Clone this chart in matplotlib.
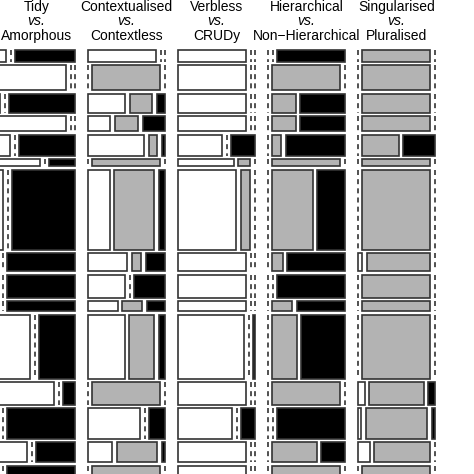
import matplotlib
matplotlib.use("Agg")
from matplotlib import pyplot as plt
from matplotlib.patches import Rectangle

plt.rcParams["font.family"] = ["Liberation Sans", "DejaVu Sans"]

# column headers
top_labels = ["Tidy", "Contextualised", "Verbless", "Hierarchical", "Singularised"]
bottom_labels = ["Amorphous", "Contextless", "CRUDy", "Non\u2212Hierarchical", "Pluralised"]

# relative row sizes (top to bottom)
row_sizes = [12, 25, 19, 15, 21, 7, 79, 18, 23, 10, 63, 23, 30, 20, 20]

# share of (white, grey, black) per row, one list per column
tidy = [(.12, 0, .88), (1, 0, 0), (.03, 0, .97), (1, 0, 0), (.17, 0, .83),
        (.62, 0, .38), (.07, 0, .93), (0, 0, 1), (0, 0, 1), (0, 0, 1),
        (.47, 0, .53), (.83, 0, .17), (0, 0, 1), (.42, 0, .58), (0, 0, 1)]
context = [(1, 0, 0), (0, 1, 0), (.55, .33, .12), (.33, .34, .33), (.83, .12, .05),
           (0, 1, 0), (.32, .59, .09), (.58, .14, .28), (.55, 0, .45), (.44, .29, .27),
           (.54, .37, .09), (0, 1, 0), (.77, 0, .23), (.36, .59, .05), (0, 1, 0)]
verbless = [(1, 0, 0), (1, 0, 0), (1, 0, 0), (1, 0, 0), (.65, 0, .35),
            (.82, .18, 0), (.86, .14, 0), (1, 0, 0), (1, 0, 0), (1, 0, 0),
            (.97, 0, .03), (1, 0, 0), (.8, 0, .2), (1, 0, 0), (1, 0, 0)]
hier = [(0, 0, 1), (0, 1, 0), (0, .34, .66), (0, .34, .66), (0, .13, .87),
        (0, 1, 0), (0, .59, .41), (0, .15, .85), (0, 0, 1), (0, .29, .71),
        (0, .36, .64), (0, 1, 0), (0, 0, 1), (0, .65, .35), (0, 1, 0)]
singular = [(0, 1, 0), (0, 1, 0), (0, 1, 0), (0, 1, 0), (0, .53, .47),
            (0, 1, 0), (0, 1, 0), (.06, .94, 0), (0, 1, 0), (0, 1, 0),
            (0, 1, 0), (.1, .8, .1), (.05, .9, .05), (.17, .83, 0), (0, 1, 0)]
columns = [tidy, context, verbless, hier, singular]

fills = ["white", "#b3b3b3", "black"]
edge = "#333333"

fig = plt.figure(figsize=(4.74, 4.74), dpi=100)
ax = fig.add_axes([0, 0, 1, 1])
ax.set_xlim(0, 474)
ax.set_ylim(474, 0)
ax.axis("off")

col_w = 77
gap = 4.5
row_gap = 3.3
y_top = 49.5
scale = (486 - y_top - row_gap * (len(row_sizes) - 1)) / sum(row_sizes)

for c, data in enumerate(columns):
    x0 = -2 + 90 * c
    cx = x0 + col_w / 2
    ax.text(cx, 11, top_labels[c], ha="center", va="baseline", fontsize=10)
    ax.text(cx, 25, "vs.", ha="center", va="baseline", fontsize=10, style="italic")
    ax.text(cx, 39.5, bottom_labels[c], ha="center", va="baseline", fontsize=10)
    y = y_top
    avail = col_w - 2 * gap
    for size, fr in zip(row_sizes, data):
        h = size * scale
        cur = x0
        for f, col in zip(fr, fills):
            w = f * avail
            if f == 0:
                ax.plot([cur + 0.5, cur + 0.5], [y, y + h], color=edge, lw=1.2,
                        ls=(0, (3, 2.5)))
            else:
                ax.add_patch(Rectangle((cur, y), w, h, facecolor=col,
                                       edgecolor=edge, lw=1.2))
            cur += w + gap
        y += h + row_gap

fig.savefig("out.png", dpi=100)
